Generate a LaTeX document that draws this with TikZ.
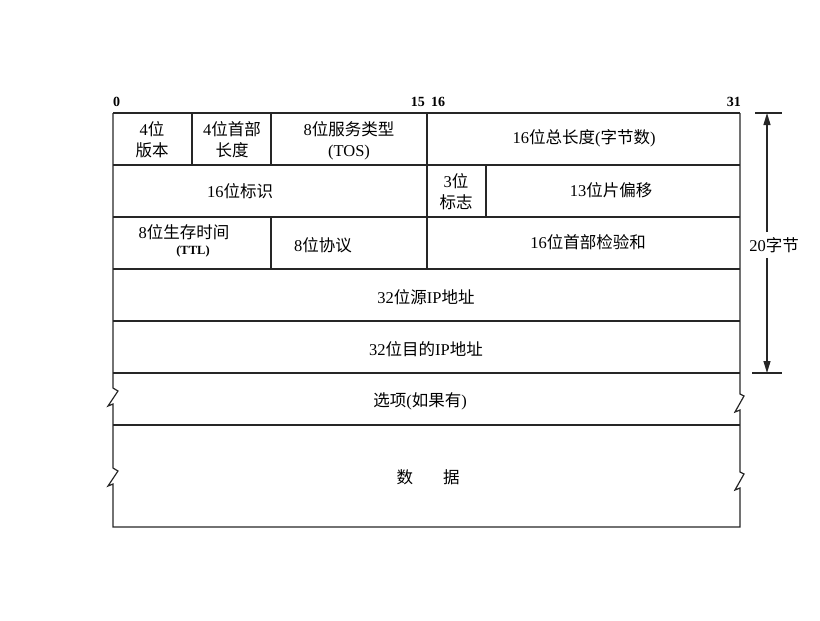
\documentclass[tikz,border=0pt]{standalone}
\usepackage{fontspec}
\setmainfont{Liberation Serif}
\newfontfamily\cjk{Noto Sans CJK SC}
\usetikzlibrary{arrows.meta}
\tikzset{
  field/.style={font=\fontsize{16.5}{21}\selectfont, align=center, inner sep=0pt},
  bitno/.style={font=\fontsize{14}{16}\selectfont\bfseries, inner sep=0pt},
  frame/.style={line width=1.2pt, black!85},
}
\begin{document}
\begin{tikzpicture}[x=1pt,y=-1pt]
      \useasboundingbox (0,0) rectangle (820,621);
      % corners of the header
      \coordinate (TL) at (113,113);
      \coordinate (TR) at (740,113);
      \coordinate (BL) at (113,527);
      \coordinate (BR) at (740,527);
      % outer frame with break marks
      \draw[frame] (TL) -- (TR);
      \draw[frame] (113,113) -- (113,388) -- (118,391) -- (108,406) -- (113,404) -- (113,468)
                   -- (118,471) -- (108,486) -- (113,484) -- (BL) -- (BR)
                   -- (740,488) -- (735,490) -- (744,474) -- (740,472) -- (740,410)
                   -- (735,412) -- (744,396) -- (740,394) -- (TR);
      % rows
      \foreach \y in {165,217,269,321,373,425}
        \draw[frame] (113,\y) -- (740,\y);
      % columns
      \draw[frame] (192,113) -- (192,165);
      \draw[frame] (271,113) -- (271,165);
      \draw[frame] (427,113) -- (427,269);
      \draw[frame] (486,165) -- (486,217);
      \draw[frame] (271,217) -- (271,269);
      % bit numbers
      \node[bitno, anchor=base west] (b0) at (113,106) {0};
      \node[bitno, anchor=base east] (b15) at (425,106) {15};
      \node[bitno, anchor=base west] (b16) at (431,106) {16};
      \node[bitno, anchor=base east] (b31) at (741,106) {31};
      % fields
      \node[field] (ver) at (152,140) {4{\cjk 位}\\{\cjk 版本}};
      \node[field] (ihl) at (232,140) {4{\cjk 位首部}\\{\cjk 长度}};
      \node[field] (tos) at (349,141) {8{\cjk 位服务类型}\\(TOS)};
      \node[field] (tlen) at (584,138) {16{\cjk 位总长度}({\cjk 字节数})};
      \node[field] (ident) at (240,191) {16{\cjk 位标识}};
      \node[field] (flags) at (456,192) {3{\cjk 位}\\{\cjk 标志}};
      \node[field] (frag) at (611,190) {13{\cjk 位片偏移}};
      \node[field] (ttl) at (184,232) {8{\cjk 位生存时间}};
      \node[field, font=\fontsize{12.5}{14}\selectfont\bfseries] (ttlx) at (193,251) {(TTL)};
      \node[field] (proto) at (323,245) {8{\cjk 位协议}};
      \node[field] (csum) at (588,242) {16{\cjk 位首部检验和}};
      \node[field] (src) at (426,297) {32{\cjk 位源}IP{\cjk 地址}};
      \node[field] (dst) at (426,349) {32{\cjk 位目的}IP{\cjk 地址}};
      \node[field] (opt) at (420,401) {{\cjk 选项}({\cjk 如果有})};
      \node[field] (data) at (428,477) {{\cjk 数}\hspace{30pt}{\cjk 据}};
      % length of the fixed part
      \coordinate (top) at (767,113);
      \coordinate (bot) at (767,373);
      \draw[frame] (755,113) -- (782,113);
      \draw[frame] (752,373) -- (782,373);
      \node[field, inner ysep=5pt] (len) at (774,245) {20{\cjk 字节}};
      \draw[frame, -{Triangle[length=12pt,width=7pt]}] (len.north -| top) -- (top);
      \draw[frame, -{Triangle[length=12pt,width=7pt]}] (len.south -| bot) -- (bot);
\end{tikzpicture}
\end{document}
